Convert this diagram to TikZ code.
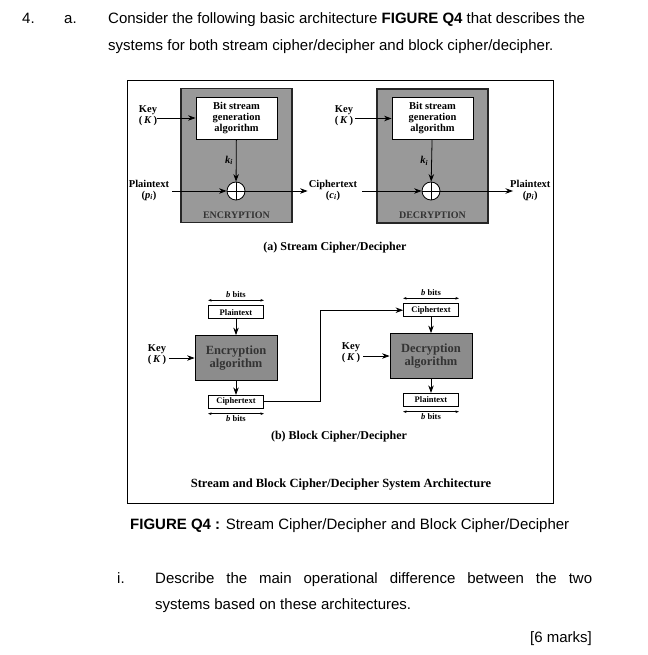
\documentclass[tikz,border=0pt]{standalone}
\usepackage{fontspec}
\setmainfont{Liberation Sans}
\newfontfamily\tms{Liberation Serif}
\usetikzlibrary{arrows.meta,positioning,calc}

\begin{document}
\begin{tikzpicture}[x=1pt, y=-1pt, >={Stealth[length=7.5pt,width=5.5pt]},
  every node/.style = {inner sep=0pt},
  exam/.style  = {font=\fontsize{15}{26}\selectfont, anchor=base west},
  fig/.style   = {font=\tms\bfseries\fontsize{10.5}{11}\selectfont, align=center},
  stage/.style = {rectangle, draw=black!85, line width=1.8pt, fill=black!40,
                  minimum width=111pt, minimum height=134pt},
  gen/.style   = {rectangle, draw, thick, fill=white, minimum width=81pt,
                  minimum height=42pt, fig},
  xor/.style   = {circle, draw, thick, fill=white, minimum size=18pt},
  algo/.style  = {rectangle, draw, thick, fill=black!45, minimum width=82pt,
                  minimum height=45pt, align=center, text=black!80,
                  font=\tms\bfseries\fontsize{12.5}{13.5}\selectfont},
  blk/.style   = {rectangle, draw, thick, fill=white, minimum width=55pt,
                  minimum height=13pt,
                  font=\tms\bfseries\fontsize{8.5}{9}\selectfont},
  bits/.style  = {font=\tms\bfseries\fontsize{8.5}{9}\selectfont},
  arrow/.style = {->, thick},
  span/.style  = {{Stealth[length=3.5pt]}-{Stealth[length=3.5pt]}, semithick},
]
  \useasboundingbox (0,0) rectangle (647,655);

  % question text
  \node[exam] (qnum) at (22,24) {4.};
  \node[exam] (qpart) at (64,24) {a.};
  \node[exam] (qline1) at (108,24)
    {Consider the following basic architecture \textbf{FIGURE Q4} that describes the};
  \node[exam] (qline2) at (108,51)
    {systems for both stream cipher/decipher and block cipher/decipher.};

  \draw[thick] (127,80) rectangle (553,503);

  % (a) stream
  \node[stage] (enc) at (236.5,155.5) {};
  \node[gen, below=9pt of enc.north] (gen1) {Bit stream\\generation\\algorithm};
  \node[xor] (x1) at (236,191) {};
  \draw[thick] (x1.north) -- (x1.south) (x1.west) -- (x1.east);
  \node[fig, font=\tms\bfseries\fontsize{10}{10}\selectfont, text=black!80,
        above=5pt of enc.south] (enclbl) {ENCRYPTION};

  \node[stage] (dec) at (432.5,156) {};
  \node[gen, below=9pt of dec.north] (gen2) {Bit stream\\generation\\algorithm};
  \node[xor] (x2) at (431,191) {};
  \draw[thick] (x2.north) -- (x2.south) (x2.west) -- (x2.east);
  \node[fig, font=\tms\bfseries\fontsize{10}{10}\selectfont, text=black!80,
        above=5pt of dec.south] (declbl) {DECRYPTION};

  \node[fig] (key1) at (148,116) {Key\\(\,\textit{K}\,)};
  \node[fig] (key2) at (344,116) {Key\\(\,\textit{K}\,)};
  \node[fig] (pt1) at (149,190) {Plaintext\\(\textit{p\textsubscript{i}})};
  \node[fig, inner sep=1pt] (ct1) at (333,190) {Ciphertext\\(\textit{c\textsubscript{i}})};
  \node[fig, anchor=west] (pt2) at (510,190) {Plaintext\\(\textit{p\textsubscript{i}})};

  \draw[arrow] (key1.east |- gen1) -- (gen1);
  \draw[arrow] ([xshift=2pt]key2.east |- gen2) -- (gen2);
  \draw[arrow] (gen1) -- node[fig, left=3pt]{\textit{k\textsubscript{i}}} (x1);
  \draw[arrow] (gen2) -- node[fig, left=3pt]{\textit{k\textsubscript{i}}} (x2);
  \draw[arrow] ([xshift=3pt]pt1.east |- x1) -- (x1);
  \draw[arrow] (x1) -- (ct1.west |- x1);
  \draw[arrow] ([xshift=4pt]ct1.east |- x2) -- (x2);
  \draw[arrow] (x2) -- ([xshift=3pt]pt2.west |- x2);

  \node[fig, font=\tms\bfseries\fontsize{12}{13}\selectfont] (capa) at (335,248)
    {(a) Stream Cipher/Decipher};

  % (b) block
  \node[algo] (encalg) at (236,358) {Encryption\\algorithm};
  \node[blk, above=16pt of encalg] (ptb1) {Plaintext};
  \node[blk, below=14pt of encalg] (ctb1) {Ciphertext};
  \node[algo] (decalg) at (431,356) {Decryption\\algorithm};
  \node[blk, above=16pt of decalg] (ctb2) {Ciphertext};
  \node[blk, below=14pt of decalg] (ptb2) {Plaintext};

  \draw[arrow] (ptb1) -- (encalg);
  \draw[arrow] (encalg) -- (ctb1);
  \draw[arrow] (ctb2) -- (decalg);
  \draw[arrow] (decalg) -- (ptb2);

  \node[fig] (key3) at (157,355) {Key\\(\,\textit{K}\,)};
  \node[fig] (key4) at (351,353) {Key\\(\,\textit{K}\,)};
  \draw[arrow] ([xshift=3pt]key3.east |- encalg) -- (encalg);
  \draw[arrow] ([xshift=3pt]key4.east |- decalg) -- (decalg);

  \coordinate (relay) at (320,360);
  \draw[arrow] (ctb1.east) -| (relay |- ctb2) -- (ctb2.west);

  \draw[span] ([yshift=5pt]ptb1.north west) -- ([yshift=5pt]ptb1.north east)
    node[bits, midway, above=2pt] {\textit{b} bits};
  \draw[span] ([yshift=5pt]ctb2.north west) -- ([yshift=5pt]ctb2.north east)
    node[bits, midway, above=2pt] {\textit{b} bits};
  \draw[span] ([yshift=-5pt]ctb1.south west) -- ([yshift=-5pt]ctb1.south east)
    node[bits, midway, below=2pt] {\textit{b} bits};
  \draw[span] ([yshift=-5pt]ptb2.south west) -- ([yshift=-5pt]ptb2.south east)
    node[bits, midway, below=2pt] {\textit{b} bits};

  \node[fig, font=\tms\bfseries\fontsize{12}{13}\selectfont] (capb) at (339,437)
    {(b) Block Cipher/Decipher};
  \node[fig, font=\tms\bfseries\fontsize{12.5}{13}\selectfont] (capall) at (341,485)
    {Stream and Block Cipher/Decipher System Architecture};

  % figure caption and sub-question
  \node[exam] (figcap) at (130,529)
    {\textbf{FIGURE Q4 :} Stream Cipher/Decipher and Block Cipher/Decipher};
  \node[exam] (qsub) at (117,583) {i.};
  \node[exam, anchor=north west, text width=437pt, align=justify] (qsubtext)
    at (155,572)
    {Describe the main operational difference between the two\linebreak
     systems based on these architectures.};
  \node[exam, anchor=base east] (marks) at (592,642) {[6 marks]};
\end{tikzpicture}
\end{document}
